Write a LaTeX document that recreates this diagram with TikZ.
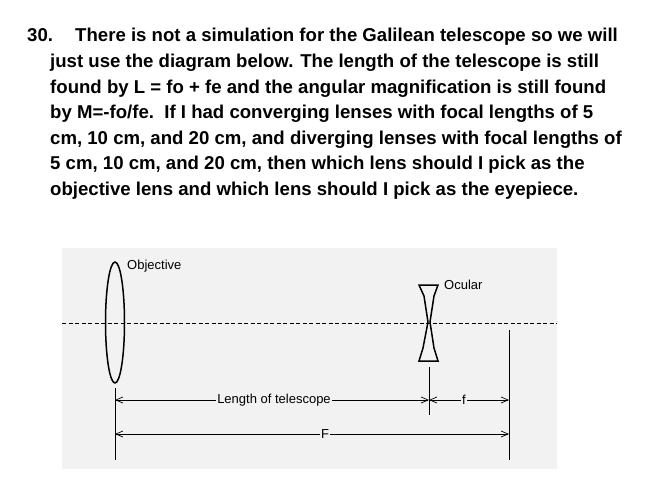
\documentclass[tikz,border=0pt]{standalone}
\usepackage{fontspec}
\setmainfont{Liberation Sans}
\begin{document}
\begin{tikzpicture}[x=1pt,y=-1pt,
  para/.style={anchor=base west,inner sep=0pt,font=\fontsize{18.6}{20}\selectfont\bfseries},
  lbl/.style={inner sep=1pt,font=\fontsize{13}{14}\selectfont,fill=panel},
  dim/.style={->,>={Straight Barb[length=7pt,width=6pt]},line width=0.7pt}]
\usetikzlibrary{arrows.meta}
\definecolor{panel}{gray}{0.95}
\useasboundingbox (0,0) rectangle (667,495);
\fill[white] (0,0) rectangle (667,495);
\node[para] (n30) at (27,42) {30.};
\node[para] (l1) at (75,42) {There is not a simulation for the Galilean telescope so we will};
\node[para] (l2) at (50,67.5) {just use the diagram below. The length of the telescope is still};
\node[para] (l3) at (50,93) {found by L = fo + fe and the angular magnification is still found};
\node[para] (l4) at (50,118.5) {by M=-fo/fe.\ \ If I had converging lenses with focal lengths of 5};
\node[para] (l5) at (50,144) {cm, 10 cm, and 20 cm, and diverging lenses with focal lengths of};
\node[para] (l6) at (50,169.5) {5 cm, 10 cm, and 20 cm, then which lens should I pick as the};
\node[para] (l7) at (50,195) {objective lens and which lens should I pick as the eyepiece.};
% panel
\fill[panel] (62,248) rectangle (557,469);
% axis
\draw[dashed,dash pattern=on 4pt off 2.5pt,line width=0.8pt] (62,323) -- (557,323);
% objective
\draw[line width=1.5pt] (115,322.5) ellipse (9.5 and 60.5);
\node[anchor=west,lbl,fill=none] (obj) at (126,266) {Objective};
% ocular
\draw[line width=1.5pt] (419,285) -- (438,285) -- (434,296) -- (430,322) -- (434,348) -- (438,361) -- (419,361) -- (423,348) -- (428,322) -- (424,296) -- cycle;
\node[anchor=west,lbl,fill=none] (ocu) at (443,285) {Ocular};
% verticals
\coordinate (lt) at (115,388); \coordinate (lb) at (115,460);
\coordinate (mt) at (429,367); \coordinate (mb) at (429,415);
\coordinate (rt) at (509,330); \coordinate (rb) at (509,460);
\draw[line width=0.9pt] (lt) -- (lb) (mt) -- (mb) (rt) -- (rb);
% dimensions
\node[lbl] (len) at (274,400) {Length of telescope};
\draw[dim] (len.west) -- (115,400);
\draw[dim] (len.east) -- (429,400);
\node[lbl] (f) at (464,400) {f};
\draw[dim] (f.west) -- (429,400);
\draw[dim] (f.east) -- (509,400);
\node[lbl] (F) at (325,434) {F};
\draw[dim] (F.west) -- (115,434);
\draw[dim] (F.east) -- (509,434);
\end{tikzpicture}
\end{document}
